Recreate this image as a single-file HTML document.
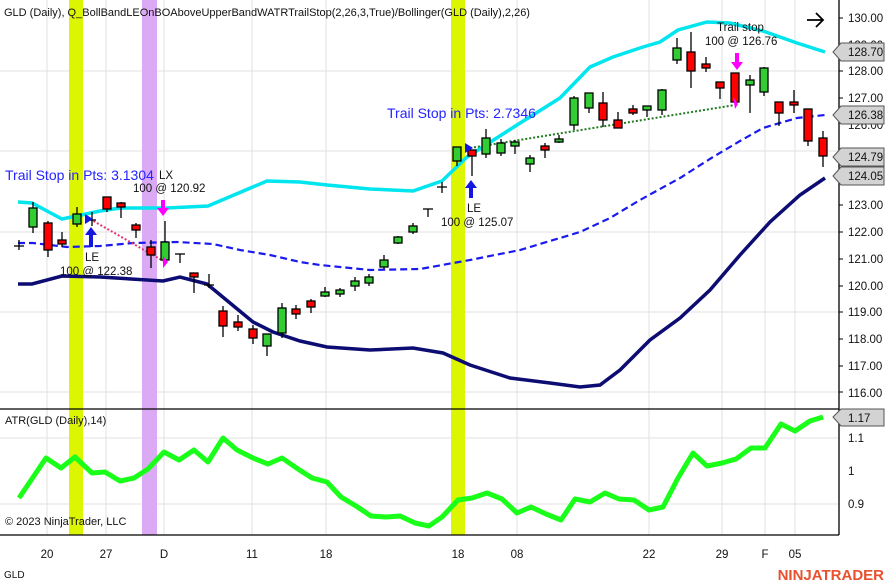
<!DOCTYPE html>
<html><head><meta charset="utf-8"><style>
html,body{margin:0;padding:0;background:#fff}
svg{display:block;font-family:"Liberation Sans",sans-serif}
</style></head><body>
<svg width="886" height="584" viewBox="0 0 886 584" xmlns="http://www.w3.org/2000/svg">
<rect width="886" height="584" fill="#fff"/>
<!-- grid -->
<g stroke="#e2e2e2" stroke-width="1">
<line x1="47" y1="0" x2="47" y2="535"/><line x1="106" y1="0" x2="106" y2="535"/><line x1="164" y1="0" x2="164" y2="535"/><line x1="252" y1="0" x2="252" y2="535"/><line x1="326" y1="0" x2="326" y2="535"/><line x1="458" y1="0" x2="458" y2="535"/><line x1="517" y1="0" x2="517" y2="535"/><line x1="649" y1="0" x2="649" y2="535"/><line x1="722" y1="0" x2="722" y2="535"/><line x1="765" y1="0" x2="765" y2="535"/><line x1="795" y1="0" x2="795" y2="535"/>
<line x1="0" y1="71" x2="839" y2="71"/><line x1="0" y1="151" x2="839" y2="151"/><line x1="0" y1="232" x2="839" y2="232"/><line x1="0" y1="312" x2="839" y2="312"/><line x1="0" y1="392" x2="839" y2="392"/>
<line x1="0" y1="438" x2="839" y2="438"/><line x1="0" y1="504" x2="839" y2="504"/>
</g>
<!-- highlights -->
<rect x="69" y="0" width="14" height="535" fill="#dcf500"/>
<rect x="142" y="0" width="15" height="535" fill="#dcaaf5"/>
<rect x="451" y="0" width="14" height="535" fill="#dcf500"/>
<!-- bands -->
<polyline fill="none" stroke="#00e5ee" stroke-width="3.5" points="18,202 32,203 62,219 100,211 120,208 167,208 208,206 267,181 300,182 327,185 370,189 413,191 442,181 467,157 517,125 560,98 590,67 613,57 643,47 660,42 678,30 707,22 730,23 763,31 797,43 825,52"/>
<polyline fill="none" stroke="#1a1aee" stroke-width="2.2" stroke-dasharray="7,4" points="18,243 33,243 67,247 100,246 133,243 177,242 213,244 240,250 270,255 300,262 320,265 370,270 420,269 470,260 520,250 580,232 610,218 640,200 680,178 713,157 740,141 763,128 797,118 825,115"/>
<polyline fill="none" stroke="#0c0c72" stroke-width="3.5" points="18,284 32,284 62,276 100,277 163,281 180,277 207,284 230,303 253,322 273,332 300,341 327,347 370,350 413,348 443,353 470,365 510,378 550,383 580,387 600,385 620,370 650,340 680,318 710,290 740,255 770,222 800,195 825,178"/>
<!-- trail lines -->
<line x1="90" y1="219" x2="165" y2="262" stroke="#e8336a" stroke-width="2" stroke-dasharray="2,2"/>
<line x1="470" y1="148" x2="735" y2="105" stroke="#1f7a1f" stroke-width="2" stroke-dasharray="2,2"/>
<!-- candles -->
<g stroke="#000" stroke-width="1.3">
<line x1="19" y1="240" x2="19" y2="250"/><line x1="14" y1="246" x2="24" y2="246"/>
<line x1="33" y1="202" x2="33" y2="233"/><rect x="29" y="208" width="8" height="19" fill="#32cd32"/>
<line x1="48" y1="221" x2="48" y2="257"/><rect x="44" y="223" width="8" height="27" fill="#f00"/>
<line x1="62" y1="232" x2="62" y2="247"/><rect x="58" y="240" width="8" height="4" fill="#f00"/>
<line x1="77" y1="207" x2="77" y2="227"/><rect x="73" y="214" width="8" height="10" fill="#32cd32"/>
<line x1="92" y1="212" x2="92" y2="226"/><line x1="88" y1="220" x2="96" y2="220"/>
<line x1="107" y1="197" x2="107" y2="212"/><rect x="103" y="197" width="8" height="12" fill="#f00"/>
<line x1="121" y1="202" x2="121" y2="218"/><rect x="117" y="203" width="8" height="4" fill="#f00"/>
<line x1="136" y1="223" x2="136" y2="238"/><rect x="132" y="225" width="8" height="5" fill="#f00"/>
<line x1="151" y1="240" x2="151" y2="268"/><rect x="147" y="247" width="8" height="8" fill="#f00"/>
<line x1="165" y1="221" x2="165" y2="265"/><rect x="161" y="242" width="8" height="18" fill="#32cd32"/>
<line x1="180" y1="254" x2="180" y2="263"/><line x1="175" y1="254" x2="185" y2="254"/>
<line x1="194" y1="273" x2="194" y2="293"/><rect x="190" y="273" width="8" height="4" fill="#f00"/>
<line x1="209" y1="274" x2="209" y2="288"/><line x1="204" y1="285" x2="214" y2="285"/>
<line x1="223" y1="306" x2="223" y2="337"/><rect x="219" y="311" width="8" height="15" fill="#f00"/>
<line x1="238" y1="315" x2="238" y2="331"/><rect x="234" y="322" width="8" height="5" fill="#f00"/>
<line x1="253" y1="325" x2="253" y2="344"/><rect x="249" y="329" width="8" height="9" fill="#f00"/>
<line x1="267" y1="334" x2="267" y2="356"/><rect x="263" y="334" width="8" height="12" fill="#32cd32"/>
<line x1="282" y1="303" x2="282" y2="338"/><rect x="278" y="308" width="8" height="25" fill="#32cd32"/>
<line x1="296" y1="305" x2="296" y2="319"/><rect x="292" y="309" width="8" height="5" fill="#f00"/>
<line x1="311" y1="299" x2="311" y2="313"/><rect x="307" y="301" width="8" height="6" fill="#f00"/>
<line x1="325" y1="287" x2="325" y2="297"/><rect x="321" y="292" width="8" height="4" fill="#32cd32"/>
<line x1="340" y1="288" x2="340" y2="297"/><rect x="336" y="290" width="8" height="4" fill="#32cd32"/>
<line x1="355" y1="277" x2="355" y2="291"/><rect x="351" y="281" width="8" height="5" fill="#32cd32"/>
<line x1="369" y1="274" x2="369" y2="286"/><rect x="365" y="277" width="8" height="6" fill="#32cd32"/>
<line x1="384" y1="255" x2="384" y2="269"/><rect x="380" y="260" width="8" height="7" fill="#32cd32"/>
<line x1="398" y1="236" x2="398" y2="244"/><rect x="394" y="237" width="8" height="6" fill="#32cd32"/>
<line x1="413" y1="223" x2="413" y2="234"/><rect x="409" y="226" width="8" height="6" fill="#32cd32"/>
<line x1="428" y1="209" x2="428" y2="217"/><line x1="423" y1="209" x2="433" y2="209"/>
<line x1="442" y1="182" x2="442" y2="193"/><line x1="437" y1="187" x2="447" y2="187"/>
<line x1="457" y1="147" x2="457" y2="166"/><rect x="453" y="147" width="8" height="14" fill="#32cd32"/>
<line x1="472" y1="150" x2="472" y2="176"/><rect x="468" y="150" width="8" height="6" fill="#f00"/>
<line x1="486" y1="129" x2="486" y2="158"/><rect x="482" y="138" width="8" height="16" fill="#32cd32"/>
<line x1="501" y1="139" x2="501" y2="156"/><rect x="497" y="143" width="8" height="10" fill="#32cd32"/>
<line x1="515" y1="140" x2="515" y2="154"/><rect x="511" y="142" width="8" height="4" fill="#32cd32"/>
<line x1="530" y1="155" x2="530" y2="172"/><rect x="526" y="158" width="8" height="6" fill="#32cd32"/>
<line x1="545" y1="143" x2="545" y2="158"/><rect x="541" y="146" width="8" height="4" fill="#f00"/>
<line x1="559" y1="135" x2="559" y2="143"/><rect x="555" y="139" width="8" height="3" fill="#32cd32"/>
<line x1="574" y1="96" x2="574" y2="130"/><rect x="570" y="98" width="8" height="27" fill="#32cd32"/>
<line x1="589" y1="93" x2="589" y2="113"/><rect x="585" y="93" width="8" height="15" fill="#32cd32"/>
<line x1="603" y1="92" x2="603" y2="127"/><rect x="599" y="103" width="8" height="17" fill="#f00"/>
<line x1="618" y1="112" x2="618" y2="128"/><rect x="614" y="120" width="8" height="8" fill="#f00"/>
<line x1="633" y1="105" x2="633" y2="115"/><rect x="629" y="109" width="8" height="4" fill="#f00"/>
<line x1="647" y1="106" x2="647" y2="117"/><rect x="643" y="106" width="8" height="4" fill="#32cd32"/>
<line x1="662" y1="89" x2="662" y2="115"/><rect x="658" y="90" width="8" height="20" fill="#32cd32"/>
<line x1="677" y1="38" x2="677" y2="64"/><rect x="673" y="48" width="8" height="12" fill="#32cd32"/>
<line x1="691" y1="32" x2="691" y2="88"/><rect x="687" y="52" width="8" height="19" fill="#f00"/>
<line x1="706" y1="57" x2="706" y2="72"/><rect x="702" y="64" width="8" height="4" fill="#f00"/>
<line x1="720" y1="82" x2="720" y2="99"/><rect x="716" y="82" width="8" height="6" fill="#f00"/>
<line x1="735" y1="73" x2="735" y2="102"/><rect x="731" y="73" width="8" height="29" fill="#f00"/>
<line x1="750" y1="75" x2="750" y2="113"/><rect x="746" y="80" width="8" height="5" fill="#32cd32"/>
<line x1="764" y1="67" x2="764" y2="96"/><rect x="760" y="68" width="8" height="24" fill="#32cd32"/>
<line x1="779" y1="102" x2="779" y2="126"/><rect x="775" y="102" width="8" height="11" fill="#f00"/>
<line x1="794" y1="90" x2="794" y2="113"/><rect x="790" y="102" width="8" height="3" fill="#f00"/>
<line x1="808" y1="109" x2="808" y2="146"/><rect x="804" y="109" width="8" height="32" fill="#f00"/>
<line x1="823" y1="131" x2="823" y2="167"/><rect x="819" y="138" width="8" height="18" fill="#f00"/>
</g>
<!-- markers -->
<polygon points="85,214 93,219 85,224" fill="#1515e0"/>
<polygon points="465,143 473,148 465,153" fill="#1515e0"/>
<g fill="#1515e0"><rect x="89" y="234" width="4" height="13"/><polygon points="85,235 91,227 97,235"/>
<rect x="469" y="187" width="4" height="11"/><polygon points="465,188 471,180 477,188"/></g>
<g fill="#ff00ff"><rect x="161" y="200" width="4" height="9"/><polygon points="157,208 163,216 169,208"/>
<polygon points="163,256 168,262 163,268" />
<rect x="735" y="53" width="4" height="10"/><polygon points="731,62 737,70 743,62"/>
<polygon points="733,97 738,104 735,109"/></g>
<!-- texts -->
<g font-size="11.5" fill="#111">
<text x="4" y="16" font-size="11">GLD (Daily), Q_BollBandLEOnBOAboveUpperBandWATRTrailStop(2,26,3,True)/Bollinger(GLD (Daily),2,26)</text>
<text x="85" y="261">LE</text><text x="60" y="275">100 @ 122.38</text>
<text x="159" y="179">LX</text><text x="133" y="192">100 @ 120.92</text>
<text x="467" y="212">LE</text><text x="441" y="226">100 @ 125.07</text>
<text x="717" y="31">Trail stop</text><text x="705" y="45">100 @ 126.76</text>
</g>
<text x="5" y="180" font-size="14" fill="#2323ff">Trail Stop in Pts: 3.1304</text>
<text x="387" y="118" font-size="14" fill="#2323ff">Trail Stop in Pts: 2.7346</text>
<path d="M807,20 H823 M816,13 L823,20 L816,27" stroke="#000" stroke-width="1.8" fill="none"/>
<!-- ATR -->
<polyline fill="none" stroke="#19ff19" stroke-width="5" stroke-linejoin="round" points="19,498 46,458 61,468 75,457 92,473 105,472 120,481 134,478 148,469 164,452 179,460 194,450 208,462 223,438 237,450 253,458 268,464 282,458 298,469 312,478 327,482 341,497 356,506 371,516 386,517 400,516 415,523 429,526 442,517 458,500 472,498 487,493 502,499 517,513 531,507 546,514 561,520 575,499 590,502 605,493 619,499 634,500 649,510 663,507 678,478 693,453 707,466 722,463 736,459 751,448 765,448 781,424 795,431 810,421 823,417"/>
<text x="5" y="424" font-size="11" fill="#111">ATR(GLD (Daily),14)</text>
<text x="5" y="525" font-size="11" fill="#111">© 2023 NinjaTrader, LLC</text>
<!-- frame -->
<line x1="0" y1="409" x2="839" y2="409" stroke="#000" stroke-width="1.3"/>
<line x1="0" y1="535" x2="839" y2="535" stroke="#000" stroke-width="1.3"/>
<line x1="839" y1="0" x2="839" y2="535" stroke="#000" stroke-width="1.3"/>
<!-- price axis -->
<g font-size="11.5" fill="#111">
<text x="848" y="22">130.00</text><text x="848" y="49">129.00</text><text x="848" y="75">128.00</text><text x="848" y="102">127.00</text><text x="848" y="129">126.00</text><text x="848" y="209">123.00</text><text x="848" y="236">122.00</text><text x="848" y="263">121.00</text><text x="848" y="290">120.00</text><text x="848" y="316">119.00</text><text x="848" y="343">118.00</text><text x="848" y="370">117.00</text><text x="848" y="397">116.00</text>
<text x="848" y="442">1.1</text><text x="848" y="475">1</text><text x="848" y="508">0.9</text>
</g>
<g stroke="#000"><line x1="839" y1="18" x2="843" y2="18"/><line x1="839" y1="45" x2="843" y2="45"/><line x1="839" y1="71" x2="843" y2="71"/><line x1="839" y1="98" x2="843" y2="98"/><line x1="839" y1="205" x2="843" y2="205"/><line x1="839" y1="232" x2="843" y2="232"/><line x1="839" y1="259" x2="843" y2="259"/><line x1="839" y1="286" x2="843" y2="286"/><line x1="839" y1="312" x2="843" y2="312"/><line x1="839" y1="339" x2="843" y2="339"/><line x1="839" y1="366" x2="843" y2="366"/><line x1="839" y1="392" x2="843" y2="392"/></g>
<g fill="#d3d3d3" stroke="#555" stroke-width="1">
<polygon points="833,52 841,43 884,43 884,61 841,61"/>
<polygon points="833,115 841,106 884,106 884,124 841,124"/>
<polygon points="833,157 841,148 884,148 884,166 841,166"/>
<polygon points="833,176 841,167 884,167 884,185 841,185"/>
<polygon points="833,417 841,409 884,409 884,426 841,426"/>
</g>
<g font-size="11.5" fill="#111">
<text x="848" y="56">128.70</text><text x="848" y="119">126.38</text><text x="848" y="161">124.79</text><text x="848" y="180">124.05</text><text x="848" y="422">1.17</text>
</g>
<!-- time axis -->
<g font-size="11.5" fill="#111" text-anchor="middle">
<text x="47" y="558">20</text><text x="106" y="558">27</text><text x="164" y="558">D</text><text x="252" y="558">11</text><text x="326" y="558">18</text><text x="458" y="558">18</text><text x="517" y="558">08</text><text x="649" y="558">22</text><text x="722" y="558">29</text><text x="765" y="558">F</text><text x="795" y="558">05</text>
</g>
<text x="4" y="578" font-size="10" fill="#111">GLD</text>
<text x="884" y="580" font-size="15" font-weight="bold" fill="#e8502e" text-anchor="end">NINJATRADER</text>
</svg>
</body></html>
